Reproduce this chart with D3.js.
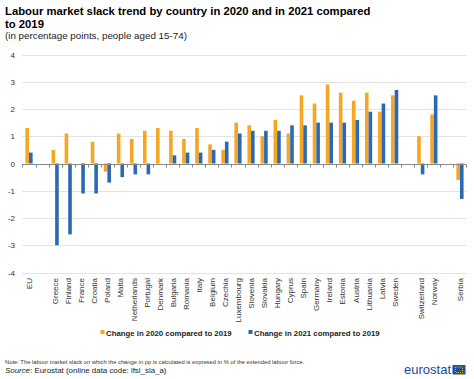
<!DOCTYPE html>
<html><head><meta charset="utf-8">
<script src="https://cdn.jsdelivr.net/npm/d3@7"></script>
<style>body{margin:0;background:#fff;}svg{display:block;font-family:"Liberation Sans",Arial,sans-serif;}</style>
</head><body><div id="chart"></div>
<script>
const categories = ["EU","","Greece","Finland","France","Croatia","Poland","Malta","Netherlands","Portugal","Denmark","Bulgaria","Romania","Italy","Belgium","Czechia","Luxembourg","Slovenia","Slovakia","Hungary","Cyprus","Spain","Germany","Ireland","Estonia","Austria","Lithuania","Latvia","Sweden"," ","Switzerland","Norway","  ","Serbia"];
const change2020 = [1.3,null,0.5,1.1,0,0.8,-0.3,1.1,0.9,1.2,1.3,1.2,0.9,1.3,0.7,0.5,1.5,1.4,1.0,1.6,1.1,2.5,2.2,2.9,2.6,2.3,2.6,1.9,2.5,null,1.0,1.8,null,-0.6];
const change2021 = [0.4,null,-3.0,-2.6,-1.1,-1.1,-0.7,-0.5,-0.4,-0.4,0,0.3,0.4,0.4,0.5,0.8,1.1,1.2,1.2,1.2,1.4,1.4,1.5,1.5,1.5,1.6,1.9,2.2,2.7,null,-0.4,2.5,null,-1.3];
const seriesNames = ["Change in 2020 compared to 2019","Change in 2021 compared to 2019"];
const yTicks = [4,3,2,1,0,-1,-2,-3,-4];
const colors = ["#f6a623","#2a6ab4"];

const W=474,H=379;
const svg=d3.select("#chart").append("svg").attr("width",W).attr("height",H);
svg.append("text").attr("x",5).attr("y",15).attr("font-size",11.3).attr("font-weight","bold").attr("fill","#000").text("Labour market slack trend by country in 2020 and in 2021 compared");
svg.append("text").attr("x",5).attr("y",28).attr("font-size",11.3).attr("font-weight","bold").attr("fill","#000").text("to 2019");
svg.append("text").attr("x",5).attr("y",39).attr("font-size",9.8).attr("fill","#222").text("(in percentage points, people aged 15-74)");

const x=d3.scaleBand().domain(categories).range([22.5,466.5]).paddingInner(0).paddingOuter(0);
const y=d3.scaleLinear().domain([-4,4]).range([272.5,54.5]);

// grid
svg.append("g").selectAll("line").data(yTicks.filter(d=>d!==0)).join("line")
 .attr("x1",22).attr("x2",466.5).attr("y1",d=>Math.round(y(d))+0.5).attr("y2",d=>Math.round(y(d))+0.5)
 .attr("stroke","#e3e3e3").attr("stroke-width",1);
// y labels
svg.append("g").selectAll("text").data(yTicks).join("text")
 .attr("x",15).attr("y",d=>y(d)+3).attr("text-anchor","end").attr("font-size",8).attr("fill","#333").text(d=>d);

const bw=3.6;
const gx=c=>x(c)+x.bandwidth()/2;
categories.forEach((c,i)=>{
  [change2020[i],change2021[i]].forEach((v,s)=>{
    if(v===null||v===0) return;
    const x0=gx(c)+(s===0?-bw:0);
    svg.append("rect").attr("x",x0).attr("width",bw)
      .attr("y",y(Math.max(0,v))).attr("height",Math.abs(y(v)-y(0)))
      .attr("fill",colors[s]);
  });
});
// zero axis
const y0=Math.round(y(0))+0.5;
svg.append("line").attr("x1",22).attr("x2",466.5).attr("y1",y0).attr("y2",y0).attr("stroke","#888").attr("stroke-width",1);
svg.append("g").selectAll("line").data(categories.slice(1)).join("line")
 .attr("x1",d=>Math.round(x(d))+0.5).attr("x2",d=>Math.round(x(d))+0.5).attr("y1",y0).attr("y2",y0+3).attr("stroke","#888");
svg.append("line").attr("x1",22.5).attr("x2",22.5).attr("y1",y0).attr("y2",y0+3).attr("stroke","#888");
svg.append("line").attr("x1",466.5).attr("x2",466.5).attr("y1",y0).attr("y2",y0+3).attr("stroke","#888");

// category labels
svg.append("g").selectAll("text").data(categories.filter(c=>c.trim()!=="")).join("text")
 .attr("transform",d=>`translate(${gx(d)+3},278) rotate(-90)`)
 .attr("text-anchor","end").attr("font-size",8).attr("fill","#333").text(d=>d);

// legend
const lg=[{x:100.5,t:seriesNames[0],c:colors[0]},{x:248.5,t:seriesNames[1],c:colors[1]}];
lg.forEach(l=>{
  svg.append("rect").attr("x",l.x).attr("y",330).attr("width",4).attr("height",4).attr("fill",l.c);
  svg.append("text").attr("x",l.x+5.5).attr("y",335.5).attr("font-size",7.8).attr("font-weight","bold").attr("fill","#222").text(l.t);
});

// notes
svg.append("text").attr("x",5).attr("y",364).attr("font-size",5.8).attr("fill","#333").text("Note: The labour market slack on which the change in pp is calculated is expresed in % of the extended labour force.");
const src=svg.append("text").attr("x",5).attr("y",373).attr("font-size",7.9).attr("fill","#222");
src.append("tspan").attr("font-style","italic").text("Source");
src.append("tspan").text(": Eurostat (online data code: lfsi_sla_a)");

// logo
svg.append("text").attr("x",451).attr("y",374).attr("text-anchor","end").attr("font-size",13).attr("fill","#1a4a9a").text("eurostat");
svg.append("rect").attr("x",452.5).attr("y",365).attr("width",13).attr("height",9.5).attr("fill","#1e4fa8");
svg.append("rect").attr("x",455.5).attr("y",367).attr("width",7).attr("height",5.5).attr("fill","none").attr("stroke","#f5d000").attr("stroke-width",0.8).attr("stroke-dasharray","1,1");
</script></body></html>
